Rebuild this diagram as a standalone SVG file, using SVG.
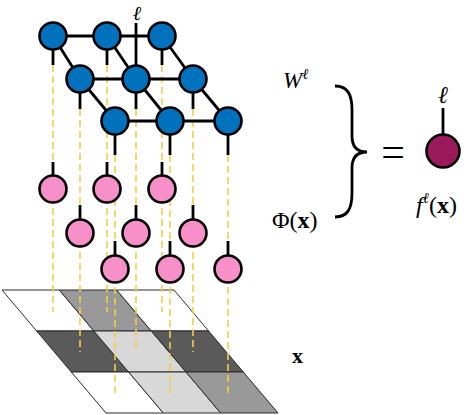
<svg xmlns="http://www.w3.org/2000/svg" width="474" height="415" viewBox="0 0 474 415">
<style>
.cell{stroke:#2a2a2a;stroke-width:1;stroke-linejoin:miter}
.dash{stroke:#f3cd48;stroke-width:1.6;stroke-dasharray:7,4;fill:none}
.edge{stroke:#000;stroke-width:2.8;fill:none}
.blue{fill:#0071bc;stroke:#000;stroke-width:2.6}
.pink{fill:#f78fc8;stroke:#000;stroke-width:2.6}
.purple{fill:#9a1a5c;stroke:#000;stroke-width:2.6}
.t{font-family:"Liberation Serif","DejaVu Serif",serif;fill:#000}
.it{font-style:italic}
.bf{font-weight:bold}
</style>
<rect width="474" height="415" fill="#fff"/>
<g id="grid">
<polygon class="cell" fill="#fff" points="2,290 59.3,290 93.9,331 36.6,331"/>
<polygon class="cell" fill="#999" points="59.3,290 116.7,290 151.3,331 93.9,331"/>
<polygon class="cell" fill="#fff" points="116.7,290 174,290 208.6,331 151.3,331"/>
<polygon class="cell" fill="#5a5a5a" points="36.6,331 93.9,331 128.6,372 71.3,372"/>
<polygon class="cell" fill="#d8d8d8" points="93.9,331 151.3,331 186,372 128.6,372"/>
<polygon class="cell" fill="#5a5a5a" points="151.3,331 208.6,331 243.3,372 186,372"/>
<polygon class="cell" fill="#fff" points="71.3,372 128.6,372 163.3,413 106,413"/>
<polygon class="cell" fill="#d8d8d8" points="128.6,372 186,372 220.6,413 163.3,413"/>
<polygon class="cell" fill="#999" points="186,372 243.3,372 278,413 220.6,413"/>
</g>
<g id="connectors">
<g id="projections">
<line class="dash" x1="53" y1="65" x2="53" y2="312"/>
<line class="dash" x1="107" y1="65" x2="107" y2="312"/>
<line class="dash" x1="162" y1="65" x2="162" y2="312"/>
<line class="dash" x1="80" y1="109" x2="80" y2="352"/>
<line class="dash" x1="136" y1="109" x2="136" y2="352"/>
<line class="dash" x1="193" y1="109" x2="193" y2="352"/>
<line class="dash" x1="115" y1="155" x2="115" y2="393"/>
<line class="dash" x1="170" y1="155" x2="170" y2="393"/>
<line class="dash" x1="228" y1="155" x2="228" y2="393"/>
</g>
<g id="pink-legs">
<line class="edge" x1="53" y1="162" x2="53" y2="176"/>
<line class="edge" x1="107" y1="162" x2="107" y2="176"/>
<line class="edge" x1="162" y1="162" x2="162" y2="176"/>
<line class="edge" x1="80" y1="205" x2="80" y2="220"/>
<line class="edge" x1="136" y1="205" x2="136" y2="220"/>
<line class="edge" x1="193" y1="205" x2="193" y2="220"/>
<line class="edge" x1="115" y1="241" x2="115" y2="256"/>
<line class="edge" x1="170" y1="241" x2="170" y2="256"/>
<line class="edge" x1="228" y1="241" x2="228" y2="256"/>
</g>
<g id="mps-edges">
<line class="edge" x1="53" y1="36" x2="162" y2="36"/>
<line class="edge" x1="80" y1="79" x2="193" y2="79"/>
<line class="edge" x1="115" y1="121" x2="228" y2="121"/>
<line class="edge" x1="53" y1="36" x2="80" y2="79"/>
<line class="edge" x1="107" y1="36" x2="136" y2="79"/>
<line class="edge" x1="162" y1="36" x2="193" y2="79"/>
<line class="edge" x1="80" y1="79" x2="115" y2="121"/>
<line class="edge" x1="136" y1="79" x2="170" y2="121"/>
<line class="edge" x1="193" y1="79" x2="228" y2="121"/>
<line class="edge" x1="136" y1="23" x2="136" y2="79"/>
<line class="edge" x1="53" y1="36" x2="53" y2="65"/>
<line class="edge" x1="107" y1="36" x2="107" y2="65"/>
<line class="edge" x1="162" y1="36" x2="162" y2="65"/>
<line class="edge" x1="80" y1="79" x2="80" y2="109"/>
<line class="edge" x1="136" y1="79" x2="136" y2="109"/>
<line class="edge" x1="193" y1="79" x2="193" y2="109"/>
<line class="edge" x1="115" y1="121" x2="115" y2="155"/>
<line class="edge" x1="170" y1="121" x2="170" y2="155"/>
<line class="edge" x1="228" y1="121" x2="228" y2="155"/>
</g>
<line id="out-leg" class="edge" x1="443" y1="108" x2="443" y2="135"/>
</g>
<g id="pink-nodes">
<circle id="p11" class="pink" cx="53" cy="189" r="13.5"/>
<circle id="p12" class="pink" cx="107" cy="189" r="13.5"/>
<circle id="p13" class="pink" cx="162" cy="189" r="13.5"/>
<circle id="p21" class="pink" cx="80" cy="233" r="13.5"/>
<circle id="p22" class="pink" cx="136" cy="233" r="13.5"/>
<circle id="p23" class="pink" cx="193" cy="233" r="13.5"/>
<circle id="p31" class="pink" cx="115" cy="269" r="13.5"/>
<circle id="p32" class="pink" cx="170" cy="269" r="13.5"/>
<circle id="p33" class="pink" cx="228" cy="269" r="13.5"/>
</g>
<g id="blue-nodes">
<circle id="b11" class="blue" cx="53" cy="36" r="13.5"/>
<circle id="b12" class="blue" cx="107" cy="36" r="13.5"/>
<circle id="b13" class="blue" cx="162" cy="36" r="13.5"/>
<circle id="b21" class="blue" cx="80" cy="79" r="13.5"/>
<circle id="b22" class="blue" cx="136" cy="79" r="13.5"/>
<circle id="b23" class="blue" cx="193" cy="79" r="13.5"/>
<circle id="b31" class="blue" cx="115" cy="121" r="13.5"/>
<circle id="b32" class="blue" cx="170" cy="121" r="13.5"/>
<circle id="b33" class="blue" cx="228" cy="121" r="13.5"/>
</g>
<g id="labels">
<text class="t it" x="137" y="20" font-size="20" text-anchor="middle">ℓ</text>
<text class="t" x="283" y="88" font-size="23"><tspan class="it">W</tspan><tspan class="it" font-size="15" dy="-9">ℓ</tspan></text>
<text class="t" x="272" y="228" font-size="24">Φ(<tspan class="bf">x</tspan>)</text>
<text class="t bf" x="292" y="363" font-size="22">x</text>
</g>
<g id="brace">
<path d="M335,86 C348,86 352,95 352,110 L352,136 C352,147 357,152 367,152 C357,152 352,157 352,168 L352,193 C352,208 348,217 335,217" fill="none" stroke="#000" stroke-width="2.8"/>
</g>
<g id="equals">
<text class="t" x="393" y="166" font-size="42" text-anchor="middle">=</text>
</g>
<g id="output-node">
<circle class="purple" cx="443" cy="151" r="16.5"/>
<text class="t it" x="443" y="103" font-size="24" text-anchor="middle">ℓ</text>
<text class="t" x="416" y="213" font-size="24"><tspan class="it">f</tspan><tspan class="it" font-size="15" dy="-10">ℓ</tspan><tspan dy="10">(</tspan><tspan class="bf">x</tspan>)</text>
</g>
</svg>
